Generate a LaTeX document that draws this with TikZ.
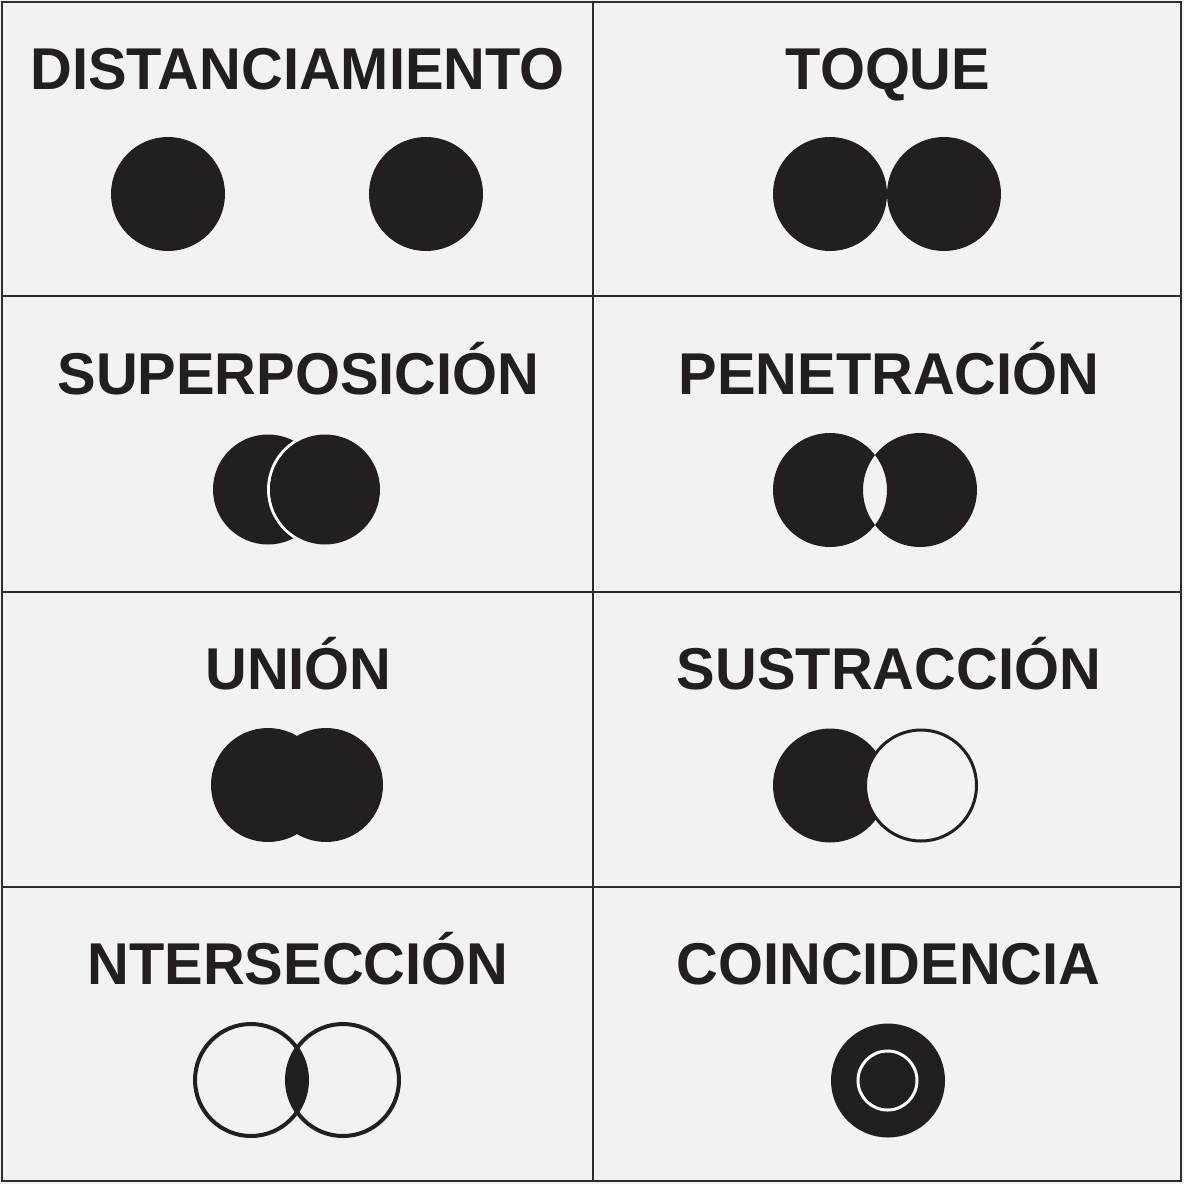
\documentclass[tikz,border=0pt]{standalone}
\usepackage{fontspec}
\setmainfont{Liberation Sans}
\definecolor{bg}{RGB}{242,242,242}
\definecolor{ink}{RGB}{35,31,32}
\definecolor{grid}{RGB}{45,45,45}
\tikzset{
  lbl/.style={anchor=base, text=ink, inner sep=0pt, font=\fontsize{59}{70}\selectfont\bfseries},
  disk/.style={fill=ink},
  frameline/.style={draw=grid, line width=2pt}
}
\newcommand{\lbltxt}[1]{\scalebox{0.98}[1]{#1}}
\begin{document}
\begin{tikzpicture}[x=1pt,y=-1pt]
\useasboundingbox (0,0) rectangle (1184,1184);
\fill[bg] (0,0) rectangle (1184,1184);
% grid
\draw[frameline] (2,2) rectangle (1181,1181);
\draw[frameline] (592.5,2) -- (592.5,1181);
\draw[frameline] (2,296) -- (1181,296);
\draw[frameline] (2,591.5) -- (1181,591.5);
\draw[frameline] (2,886.5) -- (1181,886.5);
% labels
\node[lbl] (t1) at (297.5,89) {\lbltxt{DISTANCIAMIENTO}};
\node[lbl] (t2) at (888,89) {\lbltxt{TOQUE}};
\node[lbl] (t3) at (298.5,394) {\lbltxt{SUPERPOSICIÓN}};
\node[lbl] (t4) at (889,394) {\lbltxt{PENETRACIÓN}};
\node[lbl] (t5) at (298.5,689) {\lbltxt{UNIÓN}};
\node[lbl] (t6) at (889,689) {\lbltxt{SUSTRACCIÓN}};
\node[lbl] (t7) at (298,984) {\lbltxt{NTERSECCIÓN}};
\node[lbl] (t8) at (888.5,984) {\lbltxt{COINCIDENCIA}};
% distanciamiento
\fill[disk] (168,194) circle (57);
\fill[disk] (426,194) circle (57);
% toque
\fill[disk] (830,194) circle (57);
\fill[disk] (944,194) circle (57);
% superposicion
\fill[disk] (268,489.5) circle (55);
\begin{scope}
  \clip (268,489.5) circle (55);
  \draw[white, line width=3pt] (325,489.5) circle (56.5);
\end{scope}
\fill[disk] (325,489.5) circle (55);
% penetracion
\fill[disk, even odd rule] (830,490) circle (57) (920,490) circle (57);
% union
\fill[disk] (268,785) circle (57);
\fill[disk] (326,785) circle (57);
% sustraccion
\fill[disk] (830,785.5) circle (57);
\draw[draw=ink, fill=bg, line width=3pt] (921,785.5) circle (55.5);
% interseccion
\begin{scope}
  \clip (251,1080) circle (56);
  \fill[disk] (343,1080) circle (56);
\end{scope}
\draw[ink, line width=4pt] (251,1080) circle (56);
\draw[ink, line width=4pt] (343,1080) circle (56);
% coincidencia
\fill[disk] (888,1080.5) circle (57);
\draw[white, line width=3pt] (887.5,1080.5) circle (29.5);
\end{tikzpicture}
\end{document}
